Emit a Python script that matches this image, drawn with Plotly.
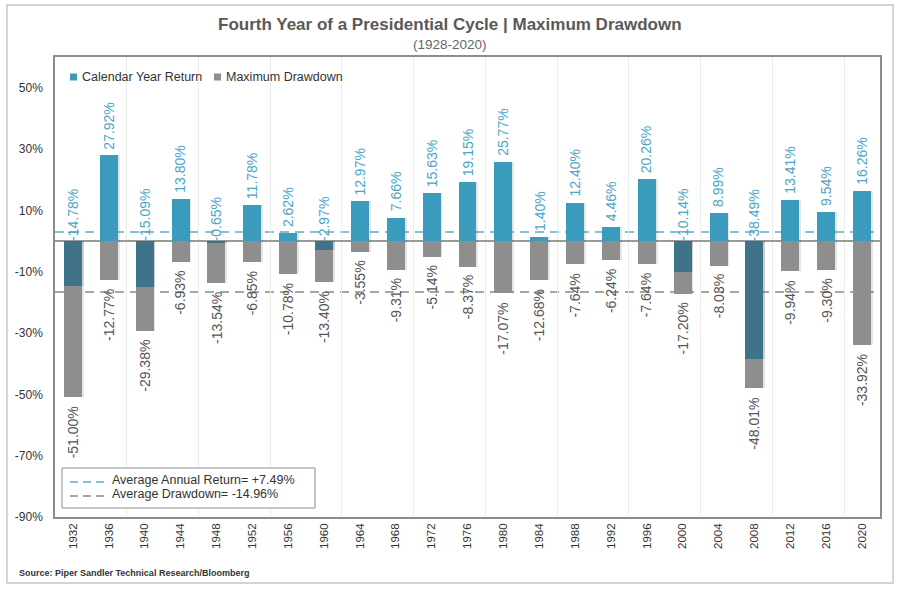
import plotly.graph_objects as go

# ---- data ----
years = [1932, 1936, 1940, 1944, 1948, 1952, 1956, 1960, 1964, 1968, 1972, 1976,
         1980, 1984, 1988, 1992, 1996, 2000, 2004, 2008, 2012, 2016, 2020]
calendar_return = [-14.78, 27.92, -15.09, 13.80, -0.65, 11.78, 2.62, -2.97, 12.97, 7.66,
                   15.63, 19.15, 25.77, 1.40, 12.40, 4.46, 20.26, -10.14, 8.99, -38.49,
                   13.41, 9.54, 16.26]
max_drawdown = [-51.00, -12.77, -29.38, -6.93, -13.54, -6.85, -10.78, -13.40, -3.55, -9.31,
                -5.14, -8.37, -17.07, -12.68, -7.64, -6.24, -7.64, -17.20, -8.03, -48.01,
                -9.94, -9.30, -33.92]
avg_return_label = "+7.49%"
avg_drawdown_label = "-14.96%"
avg_return_line = 2.9      # where the dashed line is drawn in the picture
avg_drawdown_line = -16.6
y_ticks = [50, 30, 10, -10, -30, -50, -70, -90]

FONT = "Liberation Sans, Arial, sans-serif"
BLUE = "#3a9bbd"
DARK_BLUE = "#3e7389"
GRAY = "#8e8e8e"
LABEL_BLUE = "#4da5c6"
LABEL_GRAY = "#555555"
AVG_BLUE = "#86c0d6"
AVG_GRAY = "#a6a6a6"

# plot area geometry in pixels
L, R, T, B = 55, 880, 57, 517
PW, PH = R - L, B - T


def px(xp):
    return (xp - L) / PW


def py(yp):
    return (B - yp) / PH


n = len(years)
xs = list(range(n))

fig = go.Figure()

# soft shadows
fig.add_trace(go.Bar(x=xs, y=max_drawdown, width=0.5, offset=-0.2,
                     marker=dict(color="rgba(0,0,0,0.10)", line_width=0),
                     showlegend=False, hoverinfo="skip"))
fig.add_trace(go.Bar(x=xs, y=calendar_return, width=0.5, offset=-0.2,
                     marker=dict(color="rgba(0,0,0,0.10)", line_width=0),
                     showlegend=False, hoverinfo="skip"))

# drawdown bars
fig.add_trace(go.Bar(x=xs, y=max_drawdown, width=0.5, name="Maximum Drawdown",
                     marker=dict(color=GRAY, line_width=0), showlegend=False))

# calendar-year return bars (darker shade when negative)
pos_x = [x for x, v in zip(xs, calendar_return) if v >= 0]
pos_v = [v for v in calendar_return if v >= 0]
neg_x = [x for x, v in zip(xs, calendar_return) if v < 0]
neg_v = [v for v in calendar_return if v < 0]
fig.add_trace(go.Bar(x=pos_x, y=pos_v, width=0.5, name="Calendar Year Return",
                     marker=dict(color=BLUE, line_width=0), showlegend=False))
fig.add_trace(go.Bar(x=neg_x, y=neg_v, width=0.5, name="Calendar Year Return",
                     marker=dict(color=DARK_BLUE, line_width=0), showlegend=False))

annotations = []
for x, v in zip(xs, calendar_return):
    annotations.append(dict(x=x, y=max(v, 0), xref="x", yref="y", text=f"{v:.2f}%",
                            textangle=-90, showarrow=False, yanchor="bottom",
                            xanchor="center", yshift=4 if v >= 0 else -2,
                            font=dict(family=FONT, size=14, color=LABEL_BLUE)))
for x, v in zip(xs, max_drawdown):
    annotations.append(dict(x=x, y=v, xref="x", yref="y", text=f"{v:.2f}%",
                            textangle=-90, showarrow=False, yanchor="top",
                            xanchor="center", yshift=-7,
                            font=dict(family=FONT, size=14, color=LABEL_GRAY)))

shapes = [
    # outer frame
    dict(type="rect", xref="paper", yref="paper", x0=px(7), x1=px(893),
         y0=py(583), y1=py(5), line=dict(color="#d3d3d3", width=2), layer="below"),
    # average lines (behind the bars)
    dict(type="line", xref="paper", yref="y", x0=0, x1=1, y0=avg_return_line,
         y1=avg_return_line, line=dict(color=AVG_BLUE, width=2, dash="9px,6px"),
         layer="below"),
    dict(type="line", xref="paper", yref="y", x0=0, x1=1, y0=avg_drawdown_line,
         y1=avg_drawdown_line, line=dict(color=AVG_GRAY, width=2, dash="9px,6px"),
         layer="below"),
]

# top legend (small squares + text)
legend_items = [("Calendar Year Return", BLUE, 70), ("Maximum Drawdown", GRAY, 214)]
for name, col, x0 in legend_items:
    annotations.append(dict(text=name, xref="paper", yref="paper", x=px(x0 + 10),
                            y=py(77), xanchor="left", yanchor="middle", showarrow=False,
                            font=dict(family=FONT, size=12.5, color="#333333")))
    shapes.append(dict(type="rect", xref="paper", yref="paper", x0=px(x0), x1=px(x0 + 7),
                       y0=py(80.5), y1=py(73.5), fillcolor=col, line_width=0))

# bottom legend box (average lines)
shapes.append(dict(type="rect", xref="paper", yref="paper", x0=px(62), x1=px(315),
                   y0=py(508), y1=py(468), fillcolor="white",
                   line=dict(color="#8c8c8c", width=1)))
avg_items = [(f"Average Annual Return= {avg_return_label}", AVG_BLUE, 480),
             (f"Average Drawdown= {avg_drawdown_label}", AVG_GRAY, 494)]
for name, col, yc in avg_items:
    shapes.append(dict(type="line", xref="paper", yref="paper", x0=px(70), x1=px(106),
                       y0=py(yc + 2), y1=py(yc + 2),
                       line=dict(color=col, width=2, dash="8px,5px")))
    annotations.append(dict(text=name, xref="paper", yref="paper", x=px(110), y=py(yc),
                            xanchor="left", yanchor="middle", showarrow=False,
                            font=dict(family=FONT, size=12.5, color="#333333")))

annotations += [
    dict(text="<b>Fourth Year of a Presidential Cycle | Maximum Drawdown</b>",
         xref="paper", yref="paper", x=px(450), y=py(25), xanchor="center",
         yanchor="middle", showarrow=False,
         font=dict(family=FONT, size=17, color="#595959")),
    dict(text="(1928-2020)", xref="paper", yref="paper", x=px(450), y=py(44),
         xanchor="center", yanchor="middle", showarrow=False,
         font=dict(family=FONT, size=13.5, color="#666666")),
    dict(text="<b>Source: Piper Sandler Technical Research/Bloomberg</b>",
         xref="paper", yref="paper", x=px(17), y=py(573),
         xanchor="left", yanchor="middle", showarrow=False,
         font=dict(family=FONT, size=9, color="#333333")),
]

grid_vals = [i + 0.5 for i in range(1, n - 1, 2)]

fig.update_layout(
    width=899, height=589,
    margin=dict(l=L, r=899 - R, t=T, b=589 - B, autoexpand=False),
    paper_bgcolor="white", plot_bgcolor="white",
    barmode="overlay",
    bargap=0,
    font=dict(family=FONT, size=12, color="#333333"),
    annotations=annotations,
    shapes=shapes,
    showlegend=False,
    xaxis=dict(range=[-0.5, n - 0.5], tickmode="array", tickvals=xs,
               ticktext=[str(y) for y in years], tickangle=-90, automargin=False,
               tickfont=dict(family=FONT, size=11.5, color="#333333"),
               showgrid=False, showline=True, linecolor="#8c8c8c", linewidth=1.5,
               mirror=True, ticks="", zeroline=False,
               minor=dict(tickmode="array", tickvals=grid_vals, showgrid=True,
                          gridcolor="#ececec", gridwidth=1, ticks="")),
    yaxis=dict(range=[-90, 60], tickmode="array", tickvals=y_ticks,
               ticktext=[f"{t}%" for t in y_ticks], automargin=False,
               tickfont=dict(family=FONT, size=12, color="#333333"),
               showgrid=False, showline=True, linecolor="#8c8c8c", linewidth=1.5,
               mirror=True, ticks="", zeroline=True, zerolinecolor="#9a9a9a",
               zerolinewidth=1.5, ticklabelstandoff=8),
)

fig.write_html("out.html", config={"displayModeBar": False},
               post_script="document.body.style.margin='0';document.body.style.overflow='hidden';")
